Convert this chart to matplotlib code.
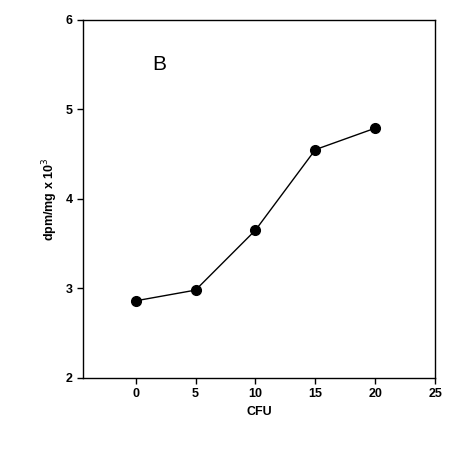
import matplotlib
matplotlib.use("Agg")
import matplotlib.pyplot as plt

cfu = [0, 5, 10, 15, 20]
dpm = [2.86, 2.98, 3.65, 4.55, 4.79]
xticks = [0, 5, 10, 15, 20, 25]
yticks = [2, 3, 4, 5, 6]

plt.rcParams['font.family'] = ['Liberation Sans', 'DejaVu Sans']
fig = plt.figure(figsize=(4.74, 4.74), dpi=100)
ax = fig.add_axes([0.175, 0.203, 0.743, 0.755])
ax.plot(cfu, dpm, color='black', lw=1, marker='o', ms=7, mfc='black')
ax.set_xlim(-4.4, 25)
ax.set_ylim(2, 6)
ax.set_xticks(xticks)
ax.set_yticks(yticks)
ax.tick_params(direction='out', length=4, labelsize=9, width=1)
for lab in ax.get_xticklabels() + ax.get_yticklabels():
    lab.set_fontweight('bold')
for s in ax.spines.values():
    s.set_linewidth(1)
ax.set_xlabel('CFU', fontsize=9, fontweight='bold')
ax.set_ylabel(r'dpm/mg x 10$^3$', fontsize=9, fontweight='bold')
ax.text(2, 5.5, 'B', fontsize=15, va='center', ha='center')
fig.savefig('out.png', dpi=100)
